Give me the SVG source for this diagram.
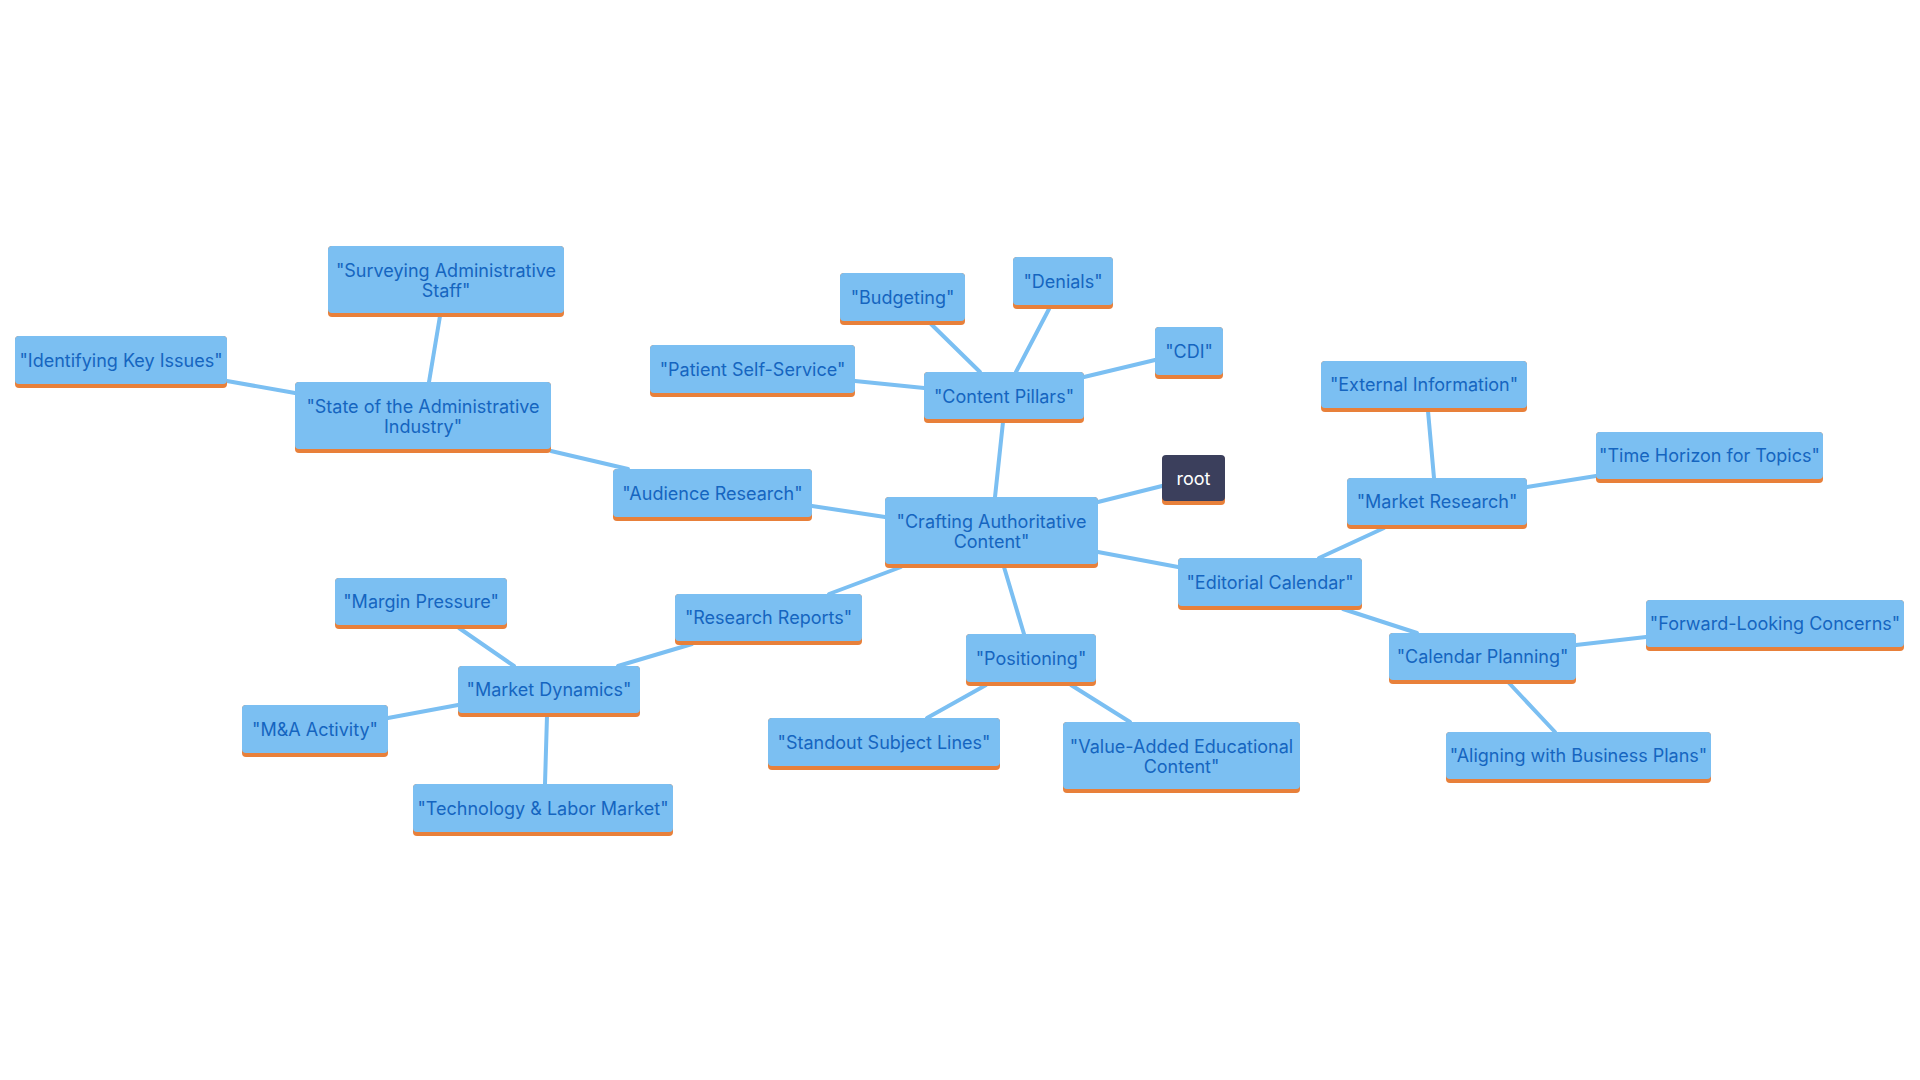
<svg xmlns="http://www.w3.org/2000/svg" width="1920" height="1080" viewBox="0 0 1920 1080">
<style>
.n rect.b{fill:#7bbff2}
.n rect.u{fill:#e8803a}
.n text{font-family:Inter,"Noto Sans",sans-serif;font-size:18px;fill:#1565c0;text-anchor:middle;dominant-baseline:central}
#root rect.b{fill:#3b3f5c}
#root text{fill:#ffffff}
#edges line{stroke:#7bbff2;stroke-width:4;stroke-linecap:round}
</style>
<rect width="1920" height="1080" fill="#ffffff"/>
<g id="edges">
<line x1="1098" y1="502" x2="1162" y2="486"/>
<line x1="995" y1="497" x2="1003" y2="422"/>
<line x1="980" y1="372" x2="931" y2="324"/>
<line x1="1016" y1="372" x2="1049" y2="309"/>
<line x1="1084" y1="377" x2="1155" y2="360"/>
<line x1="924" y1="388" x2="855" y2="381"/>
<line x1="885" y1="517" x2="812" y2="506"/>
<line x1="628" y1="469" x2="551" y2="451"/>
<line x1="429" y1="382" x2="440" y2="316"/>
<line x1="295" y1="393" x2="227" y2="381"/>
<line x1="901" y1="567" x2="829" y2="594"/>
<line x1="692" y1="644" x2="618" y2="666"/>
<line x1="514" y1="666" x2="459" y2="628"/>
<line x1="458" y1="705" x2="388" y2="718"/>
<line x1="547" y1="716" x2="545" y2="784"/>
<line x1="1004" y1="567" x2="1024" y2="634"/>
<line x1="986" y1="685" x2="927" y2="718"/>
<line x1="1071" y1="685" x2="1130" y2="722"/>
<line x1="1098" y1="552" x2="1178" y2="567"/>
<line x1="1319" y1="558" x2="1384" y2="528"/>
<line x1="1428" y1="411" x2="1434" y2="478"/>
<line x1="1527" y1="487" x2="1596" y2="476"/>
<line x1="1343" y1="609" x2="1417" y2="633"/>
<line x1="1576" y1="645" x2="1646" y2="637"/>
<line x1="1509" y1="683" x2="1555" y2="732"/>
</g>
<g id="root" class="n"><rect class="u" x="1162" y="456" width="63" height="49" rx="4"/><rect class="b" x="1162" y="455" width="63" height="46" rx="4"/><text x="1193.5" y="478">root</text></g>
<g id="crafting" class="n"><rect class="u" x="885" y="497" width="213" height="71" rx="4"/><rect class="b" x="885" y="497" width="213" height="67" rx="4"/><text x="991.5" y="531"><tspan x="991.5" dy="-10">"Crafting Authoritative</tspan><tspan x="991.5" dy="20">Content"</tspan></text></g>
<g id="pillars" class="n"><rect class="u" x="924" y="372" width="160" height="51" rx="4"/><rect class="b" x="924" y="372" width="160" height="47" rx="4"/><text x="1004" y="396">"Content Pillars"</text></g>
<g id="budgeting" class="n"><rect class="u" x="840" y="273" width="125" height="52" rx="4"/><rect class="b" x="840" y="273" width="125" height="48" rx="4"/><text x="902.5" y="297">"Budgeting"</text></g>
<g id="denials" class="n"><rect class="u" x="1013" y="257" width="100" height="52" rx="4"/><rect class="b" x="1013" y="257" width="100" height="48" rx="4"/><text x="1063" y="281">"Denials"</text></g>
<g id="cdi" class="n"><rect class="u" x="1155" y="327" width="68" height="52" rx="4"/><rect class="b" x="1155" y="327" width="68" height="48" rx="4"/><text x="1189" y="351">"CDI"</text></g>
<g id="patient" class="n"><rect class="u" x="650" y="345" width="205" height="52" rx="4"/><rect class="b" x="650" y="345" width="205" height="48" rx="4"/><text x="752.5" y="369">"Patient Self-Service"</text></g>
<g id="audience" class="n"><rect class="u" x="613" y="469" width="199" height="52" rx="4"/><rect class="b" x="613" y="469" width="199" height="48" rx="4"/><text x="712.5" y="493">"Audience Research"</text></g>
<g id="state" class="n"><rect class="u" x="295" y="382" width="256" height="71" rx="4"/><rect class="b" x="295" y="382" width="256" height="67" rx="4"/><text x="423"><tspan x="423" y="406">"State of the Administrative</tspan><tspan x="423" y="426">Industry"</tspan></text></g>
<g id="surveying" class="n"><rect class="u" x="328" y="246" width="236" height="71" rx="4"/><rect class="b" x="328" y="246" width="236" height="67" rx="4"/><text x="446"><tspan x="446" y="270">"Surveying Administrative</tspan><tspan x="446" y="290">Staff"</tspan></text></g>
<g id="identifying" class="n"><rect class="u" x="15" y="336" width="212" height="52" rx="4"/><rect class="b" x="15" y="336" width="212" height="48" rx="4"/><text x="121" y="360">"Identifying Key Issues"</text></g>
<g id="reports" class="n"><rect class="u" x="675" y="594" width="187" height="51" rx="4"/><rect class="b" x="675" y="594" width="187" height="47" rx="4"/><text x="768.5" y="617">"Research Reports"</text></g>
<g id="dynamics" class="n"><rect class="u" x="458" y="666" width="182" height="51" rx="4"/><rect class="b" x="458" y="666" width="182" height="47" rx="4"/><text x="549" y="689">"Market Dynamics"</text></g>
<g id="margin" class="n"><rect class="u" x="335" y="578" width="172" height="51" rx="4"/><rect class="b" x="335" y="578" width="172" height="47" rx="4"/><text x="421" y="601">"Margin Pressure"</text></g>
<g id="ma" class="n"><rect class="u" x="242" y="705" width="146" height="52" rx="4"/><rect class="b" x="242" y="705" width="146" height="48" rx="4"/><text x="315" y="729">"M&amp;A Activity"</text></g>
<g id="tech" class="n"><rect class="u" x="413" y="784" width="260" height="52" rx="4"/><rect class="b" x="413" y="784" width="260" height="48" rx="4"/><text x="543" y="808">"Technology &amp; Labor Market"</text></g>
<g id="positioning" class="n"><rect class="u" x="966" y="634" width="130" height="52" rx="4"/><rect class="b" x="966" y="634" width="130" height="48" rx="4"/><text x="1031" y="658">"Positioning"</text></g>
<g id="standout" class="n"><rect class="u" x="768" y="718" width="232" height="52" rx="4"/><rect class="b" x="768" y="718" width="232" height="48" rx="4"/><text x="884" y="742">"Standout Subject Lines"</text></g>
<g id="value" class="n"><rect class="u" x="1063" y="722" width="237" height="71" rx="4"/><rect class="b" x="1063" y="722" width="237" height="67" rx="4"/><text x="1181.5"><tspan x="1181.5" y="746">"Value-Added Educational</tspan><tspan x="1181.5" y="766">Content"</tspan></text></g>
<g id="editorial" class="n"><rect class="u" x="1178" y="558" width="184" height="52" rx="4"/><rect class="b" x="1178" y="558" width="184" height="48" rx="4"/><text x="1270" y="582">"Editorial Calendar"</text></g>
<g id="market" class="n"><rect class="u" x="1347" y="478" width="180" height="51" rx="4"/><rect class="b" x="1347" y="478" width="180" height="47" rx="4"/><text x="1437" y="501">"Market Research"</text></g>
<g id="external" class="n"><rect class="u" x="1321" y="361" width="206" height="51" rx="4"/><rect class="b" x="1321" y="361" width="206" height="47" rx="4"/><text x="1424" y="384">"External Information"</text></g>
<g id="horizon" class="n"><rect class="u" x="1596" y="432" width="227" height="51" rx="4"/><rect class="b" x="1596" y="432" width="227" height="47" rx="4"/><text x="1709.5" y="455">"Time Horizon for Topics"</text></g>
<g id="planning" class="n"><rect class="u" x="1389" y="633" width="187" height="51" rx="4"/><rect class="b" x="1389" y="633" width="187" height="47" rx="4"/><text x="1482.5" y="656">"Calendar Planning"</text></g>
<g id="forward" class="n"><rect class="u" x="1646" y="600" width="258" height="51" rx="4"/><rect class="b" x="1646" y="600" width="258" height="47" rx="4"/><text x="1775" y="623">"Forward-Looking Concerns"</text></g>
<g id="aligning" class="n"><rect class="u" x="1446" y="732" width="265" height="51" rx="4"/><rect class="b" x="1446" y="732" width="265" height="47" rx="4"/><text x="1578.5" y="755">"Aligning with Business Plans"</text></g>
</svg>
